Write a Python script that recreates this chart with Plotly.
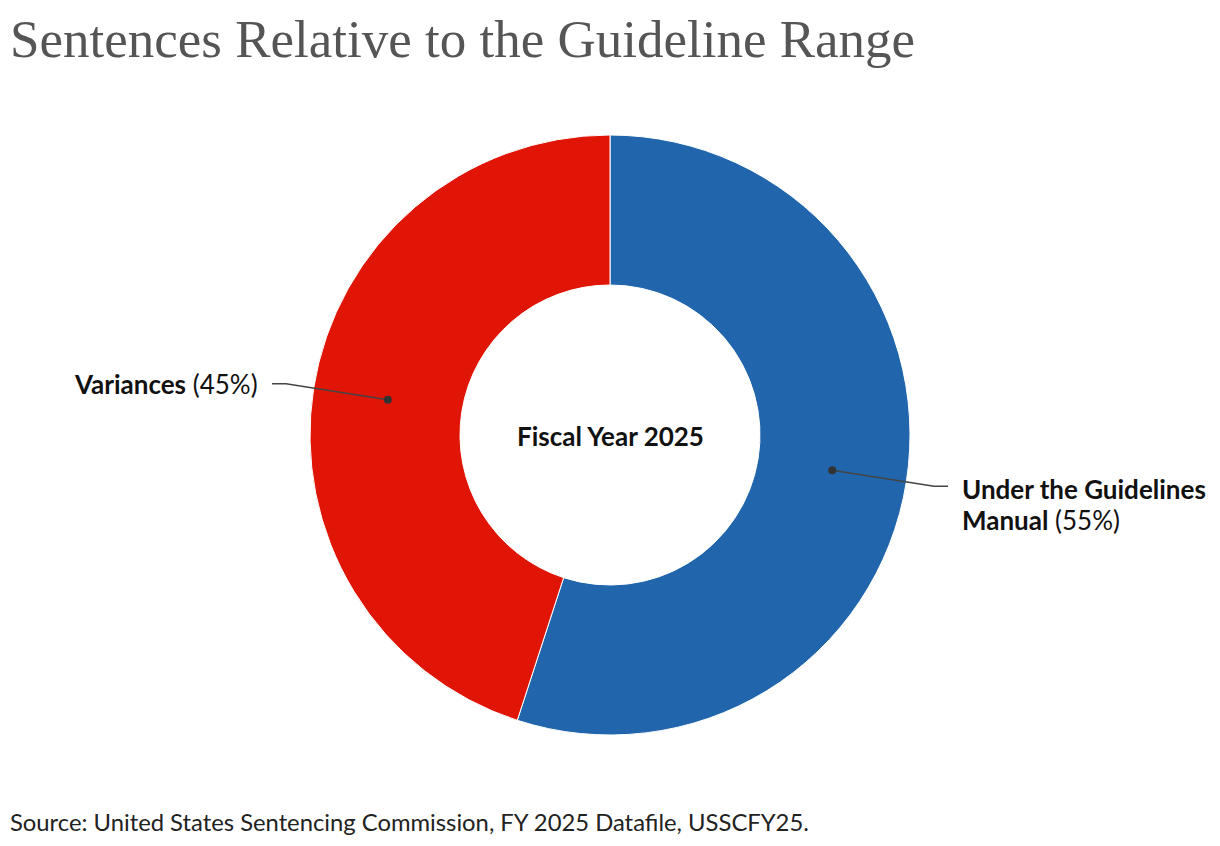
import math
import plotly.graph_objects as go

# ---- data ----
categories = ["Under the Guidelines Manual", "Variances"]
label_lines = [["<b>Under the Guidelines</b>", "<b>Manual</b> (55%)"], ["<b>Variances</b> (45%)"]]
values = [55, 45]
colors = ["#2166AC", "#E01506"]
center_label = "Fiscal Year 2025"
title_text = "Sentences Relative to the Guideline Range"
source_text = "Source: United States Sentencing Commission, FY 2025 Datafile, USSCFY25."

# ---- layout geometry (pixels in the viewport; page has an 8px body margin) ----
OFF = 8
W, H = 1220 - OFF, 846 - OFF
cx, cy, R = 610, 435, 300
hole = 0.5

def px(x):
    return (x - OFF) / W

def py(y):
    return 1 - (y - OFF) / H

fig = go.Figure(go.Pie(
    labels=categories,
    values=values,
    marker=dict(colors=colors, line=dict(color="white", width=1)),
    hole=hole,
    sort=False,
    direction="clockwise",
    rotation=0,
    textinfo="none",
    hoverinfo="skip",
    showlegend=False,
    domain=dict(x=[px(cx - R), px(cx + R)], y=[py(cy + R), py(cy - R)]),
))

shapes = []
annotations = []
total = sum(values)
start = 0.0
LINE_H = 31
for lines, v in zip(label_lines, values):
    frac = v / total
    mid = (start + frac / 2) * 2 * math.pi
    start += frac
    dx, dy = math.sin(mid), -math.cos(mid)
    r_dot = R * (1 + hole) / 2
    x0, y0 = cx + r_dot * dx, cy + r_dot * dy
    r_elb = r_dot + 103
    x1, y1 = cx + r_elb * dx, cy + r_elb * dy
    side = 1 if dx >= 0 else -1
    x2 = x1 + side * 14
    shapes.append(dict(type="path", xref="paper", yref="paper",
                       path=f"M {px(x0)} {py(y0)} L {px(x1)} {py(y1)} L {px(x2)} {py(y1)}",
                       line=dict(color="#444444", width=1.5)))
    r = 4
    shapes.append(dict(type="circle", xref="paper", yref="paper",
                       x0=px(x0 - r), x1=px(x0 + r), y0=py(y0 + r), y1=py(y0 - r),
                       fillcolor="#333333", line=dict(width=0)))
    dy_txt = 3 if side > 0 else 0
    for i, t in enumerate(lines):
        annotations.append(dict(
            xref="paper", yref="paper",
            x=px(x2 + side * 12), y=py(y1 + dy_txt + i * LINE_H),
            text=t, showarrow=False,
            xanchor="left" if side > 0 else "right", yanchor="middle", align="left",
            font=dict(family="Lato", size=26, color="#111111"),
        ))

annotations.append(dict(xref="paper", yref="paper", x=px(cx), y=py(cy + 1),
                        text=f"<b>{center_label}</b>", showarrow=False,
                        xanchor="center", yanchor="middle",
                        font=dict(family="Lato", size=26, color="#111111")))
annotations.append(dict(xref="paper", yref="paper", x=px(8), y=py(39),
                        text=title_text, showarrow=False,
                        xanchor="left", yanchor="middle",
                        font=dict(family="Liberation Serif", size=53, color="#555555")))
annotations.append(dict(xref="paper", yref="paper", x=px(8), y=py(822),
                        text=source_text, showarrow=False,
                        xanchor="left", yanchor="middle",
                        font=dict(family="Lato", size=23.8, color="#222222")))

fig.update_layout(
    width=W, height=H,
    margin=dict(l=0, r=0, t=0, b=0),
    paper_bgcolor="white", plot_bgcolor="white",
    shapes=shapes, annotations=annotations,
)

fig.write_html("out.html")
